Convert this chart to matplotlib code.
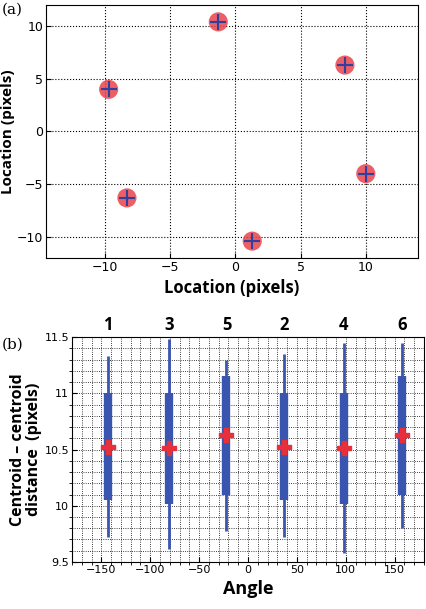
import matplotlib
matplotlib.use("Agg")
import matplotlib.pyplot as plt
from matplotlib.ticker import MultipleLocator

# Panel (a): cluster centres (pixels)
cx = [-9.7, -1.3, 8.4, 10.0, 1.3, -8.3]
cy = [4.0, 10.4, 6.3, -4.0, -10.4, -6.3]

# Panel (b): per-spot angle, mean distance, core and tail ranges
labels = ["1", "3", "5", "2", "4", "6"]
ang = [-143, -81, -22, 37, 98, 158]
mean_d = [10.52, 10.51, 10.63, 10.52, 10.51, 10.63]
core_lo = [10.05, 10.02, 10.1, 10.05, 10.02, 10.1]
core_hi = [11.0, 11.0, 11.15, 11.0, 11.0, 11.15]
tail_lo = [9.72, 9.62, 9.78, 9.72, 9.58, 9.8]
tail_hi = [11.33, 11.48, 11.3, 11.35, 11.45, 11.45]

fig = plt.figure(figsize=(4.26, 6.09), dpi=100)
bold = dict(fontweight="bold", fontfamily="Open Sans")

ax = fig.add_axes([46/426, 1-258/609, 372/426, 253/609])
ax.scatter(cx, cy, s=190, color="#e8434a", alpha=0.85, edgecolors="none", zorder=2)
ax.scatter(cx, cy, s=130, marker="+", color="#3040a0", linewidths=1.5, zorder=3)
ax.set_xlim(-14.5, 14)
ax.set_ylim(-12, 12)
ax.set_xticks([-10, -5, 0, 5, 10])
ax.set_yticks([-10, -5, 0, 5, 10])
ax.grid(True, ls=":", color="k", lw=0.8)
ax.tick_params(labelsize=9, direction="in", pad=2)
ax.set_xlabel("Location (pixels)", fontsize=12, **bold)
ax.set_ylabel("Location (pixels)", fontsize=11, labelpad=1, **bold)
fig.text(0.005, 0.995, "(a)", fontsize=11, fontfamily="DejaVu Serif", va="top")

bx = fig.add_axes([72/426, 1-562/609, 352/426, 225/609])
bx.vlines(ang, tail_lo, tail_hi, color="#3a55b0", lw=2, zorder=2)
bx.vlines(ang, core_lo, core_hi, color="#3a55b0", lw=6, zorder=2)
bx.scatter(ang, mean_d, s=90, marker="P", color="#e8303a", zorder=3)
bx.set_xlim(-180, 180)
bx.set_ylim(9.5, 11.5)
bx.set_xticks([-150, -100, -50, 0, 50, 100, 150])
bx.set_yticks([9.5, 10, 10.5, 11, 11.5])
bx.set_yticklabels(["9.5", "10", "10.5", "11", "11.5"])
bx.xaxis.set_minor_locator(MultipleLocator(10))
bx.yaxis.set_minor_locator(MultipleLocator(0.1))
bx.grid(True, which="both", ls=":", color="k", lw=0.6)
bx.tick_params(labelsize=8, direction="in", pad=2)
for a, l in zip(ang, labels):
    bx.text(a, 11.53, l, ha="center", va="bottom", fontsize=12, **bold)
bx.set_xlabel("Angle", fontsize=13, **bold)
bx.set_ylabel("Centroid – centroid\ndistance  (pixels)", fontsize=11.5, linespacing=1.0, labelpad=2, **bold)
fig.text(0.005, 0.445, "(b)", fontsize=11, fontfamily="DejaVu Serif", va="top")

fig.savefig("out.png", dpi=100)
